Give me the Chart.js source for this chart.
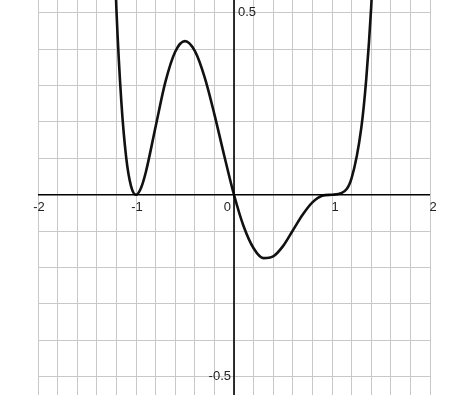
<!DOCTYPE html>
<html>
<head>
<meta charset="utf-8">
<script src="https://cdn.jsdelivr.net/npm/chart.js@4"></script>
<style>
  html, body { margin: 0; padding: 0; background: #fff; }
  #wrap { width: 474px; height: 401px; }
</style>
</head>
<body>
<div id="wrap"><canvas id="plot"></canvas></div>
<script>
// points
const xs = [-1.25, -1.2, -1.15, -1.1, -1.05, -1, -0.95, -0.9, -0.8, -0.7, -0.6, -0.5, -0.4, -0.3, -0.2, -0.1, 0,
            0.1, 0.2, 0.3, 0.4, 0.5, 0.6, 0.7, 0.8, 0.9, 1, 1.1, 1.2, 1.3, 1.35, 1.4, 1.45];
const ys = [0.89, 0.51, 0.257, 0.102, 0.023, 0, 0.018, 0.062, 0.187, 0.31, 0.393, 0.422, 0.395, 0.323, 0.221, 0.108, 0,
            -0.088, -0.147, -0.174, -0.169, -0.141, -0.098, -0.055, -0.021, -0.003, 0, 0.005, 0.046, 0.186, 0.32, 0.516, 0.793];
const xLabels = [-2, -1, 0, 1, 2];
const yLabels = [0.5, -0.5];

// draws the two axes through zero and their labels
const axesPlugin = {
  id: 'axes',
  afterDatasetsDraw(chart) {
    const ctx = chart.ctx, a = chart.chartArea;
    const sx = chart.scales.x, sy = chart.scales.y;
    const x0 = sx.getPixelForValue(0), y0 = sy.getPixelForValue(0);
    ctx.save();
    ctx.strokeStyle = '#000';
    ctx.lineWidth = 1.6;
    ctx.beginPath();
    ctx.moveTo(a.left, y0); ctx.lineTo(a.right, y0);
    ctx.moveTo(x0, a.top); ctx.lineTo(x0, a.bottom);
    ctx.stroke();
    ctx.fillStyle = '#222';
    ctx.font = '13px "Liberation Sans", Arial, sans-serif';
    ctx.textBaseline = 'top';
    xLabels.forEach(v => {
      let px = sx.getPixelForValue(v);
      ctx.textAlign = 'center';
      if (v === 0) { ctx.textAlign = 'right'; px -= 3; }
      else if (v < 0) px += 1;
      else px += 3;
      ctx.fillText(String(v), px, y0 + 6);
    });
    ctx.textBaseline = 'middle';
    yLabels.forEach(v => {
      const py = sy.getPixelForValue(v);
      if (v > 0) { ctx.textAlign = 'left'; ctx.fillText(String(v), x0 + 4, py); }
      else { ctx.textAlign = 'right'; ctx.fillText(String(v), x0 - 3, py); }
    });
    ctx.restore();
  }
};

new Chart(document.getElementById('plot'), {
  type: 'scatter',
  data: {
    datasets: [{
      data: xs.map((x, i) => ({ x: x, y: ys[i] })),
      showLine: true,
      borderColor: '#111',
      borderWidth: 2.6,
      pointRadius: 0,
      cubicInterpolationMode: 'monotone'
    }]
  },
  options: {
    responsive: true,
    maintainAspectRatio: false,
    animation: false,
    layout: { padding: { left: 38, right: 44, top: 0, bottom: 6 } },
    plugins: { legend: { display: false }, tooltip: { enabled: false } },
    scales: {
      x: {
        type: 'linear', min: -2, max: 2,
        ticks: { display: false, stepSize: 0.2 },
        grid: { color: '#c8c8c8', lineWidth: 1, drawTicks: false },
        border: { display: false }
      },
      y: {
        type: 'linear', min: -0.55, max: 0.535,
        afterBuildTicks(s) {
          s.ticks = [];
          for (let i = -5; i <= 5; i++) s.ticks.push({ value: i / 10 });
        },
        ticks: { display: false },
        grid: { color: '#c8c8c8', lineWidth: 1, drawTicks: false },
        border: { display: false }
      }
    }
  },
  plugins: [axesPlugin]
});
</script>
</body>
</html>
